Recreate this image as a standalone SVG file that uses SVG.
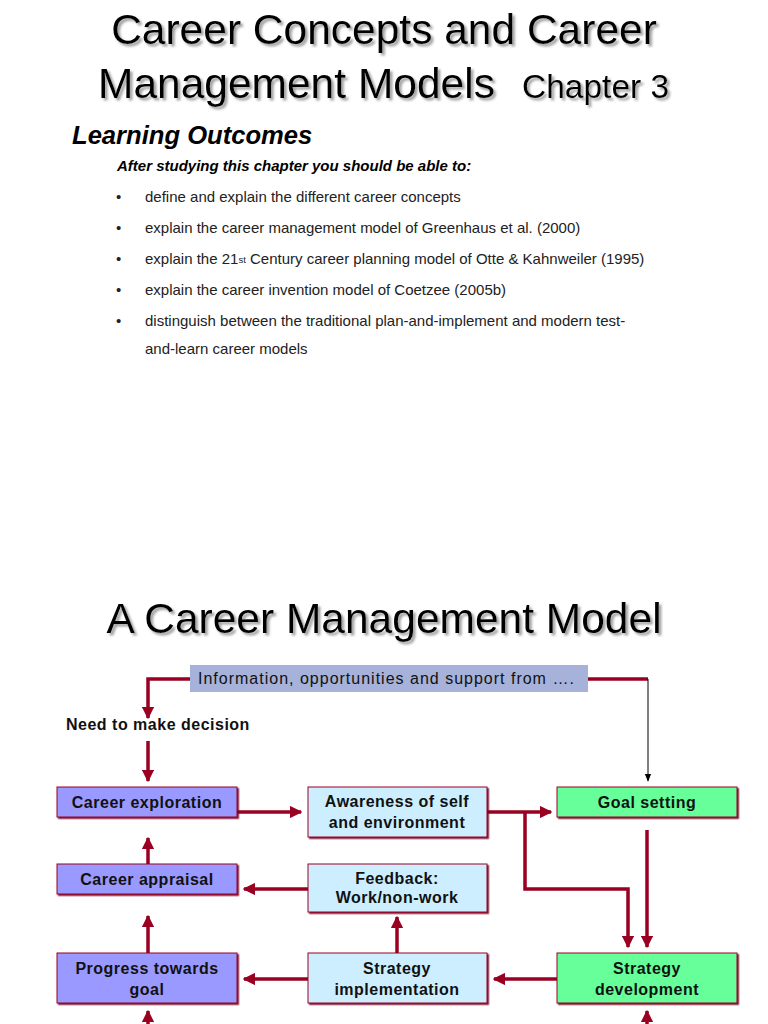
<svg xmlns="http://www.w3.org/2000/svg" width="768" height="1024" viewBox="0 0 768 1024">
<defs>
<filter id="tsh" x="-5%" y="-20%" width="110%" height="150%">
<feDropShadow dx="2.5" dy="2.5" stdDeviation="1" flood-color="#888" flood-opacity="0.8"/>
</filter>
<filter id="bsh" x="-5%" y="-10%" width="110%" height="130%">
<feDropShadow dx="1.5" dy="1.5" stdDeviation="0.3" flood-color="#7a0020" flood-opacity="0.9"/>
</filter>
<marker id="ah" viewBox="0 0 10 10" refX="9" refY="5" markerWidth="3.6" markerHeight="3.6" orient="auto" markerUnits="strokeWidth">
<path d="M0,0 L10,5 L0,10 Z" fill="#990022"/>
</marker>
<marker id="ahk" viewBox="0 0 10 10" refX="9" refY="5" markerWidth="8" markerHeight="8" orient="auto" markerUnits="strokeWidth">
<path d="M0,1 L10,5 L0,9 Z" fill="#000"/>
</marker>
</defs>
<style>
.title{font-family:"Liberation Sans",Arial,sans-serif;font-size:42.5px;fill:#000;filter:url(#tsh)}
.lo{font-family:"Liberation Sans",Arial,sans-serif;font-weight:bold;font-style:italic;fill:#000}
.bl{font-family:"Liberation Sans",Arial,sans-serif;font-size:15px;fill:#222}
.box{stroke:#990022;stroke-width:1;filter:url(#bsh)}
.purple{fill:#9999ff}
.blue{fill:#cceeff}
.green{fill:#66ff99}
.lbl{font-family:"Liberation Sans",Arial,sans-serif;font-weight:bold;font-size:16px;letter-spacing:0.5px;fill:#111;text-anchor:middle}
.red{stroke:#990022;stroke-width:3.5;fill:none}
</style>
<rect width="768" height="1024" fill="#fff"/>

<g id="title">
<text class="title" x="384" y="44" text-anchor="middle">Career Concepts and Career</text>
<text class="title" x="98" y="98">Management Models</text>
<text class="title" x="522" y="98" style="font-size:33.5px">Chapter 3</text>
</g>

<g id="outcomes">
<text class="lo" x="72" y="144" font-size="25.6">Learning Outcomes</text>
<text class="lo" x="117" y="171" font-size="15">After studying this chapter you should be able to:</text>
<g class="bl">
<text x="116" y="202">•</text><text x="145" y="202">define and explain the different career concepts</text>
<text x="116" y="233">•</text><text x="145" y="233">explain the career management model of Greenhaus et al. (2000)</text>
<text x="116" y="264">•</text><text x="145" y="264">explain the 21<tspan font-size="9.5" dy="-1">st</tspan><tspan dy="1"> Century career planning model of Otte &amp; Kahnweiler (1995)</tspan></text>
<text x="116" y="295">•</text><text x="145" y="295">explain the career invention model of Coetzee (2005b)</text>
<text x="116" y="326">•</text><text x="145" y="326">distinguish between the traditional plan-and-implement and modern test-</text>
<text x="145" y="354">and-learn career models</text>
</g>
</g>

<g id="title2">
<text class="title" x="384" y="633" text-anchor="middle">A Career Management Model</text>
</g>

<g id="connectors">
<polyline class="red" points="190,679 148,679 148,718" marker-end="url(#ah)"/>
<line x1="588" y1="679" x2="648" y2="679" stroke="#990022" stroke-width="3.5"/>
<line x1="648" y1="679" x2="648" y2="781" stroke="#000" stroke-width="1" marker-end="url(#ahk)"/>
<line class="red" x1="148" y1="741" x2="148" y2="781" marker-end="url(#ah)"/>
<line class="red" x1="237" y1="812" x2="301" y2="812" marker-end="url(#ah)"/>
<line class="red" x1="487" y1="812" x2="551" y2="812" marker-end="url(#ah)"/>
<polyline class="red" points="525,812 525,889 628,889 628,947" marker-end="url(#ah)"/>
<line class="red" x1="647" y1="830" x2="647" y2="947" marker-end="url(#ah)"/>
<line class="red" x1="557" y1="979" x2="494" y2="979" marker-end="url(#ah)"/>
<line class="red" x1="308" y1="979" x2="244" y2="979" marker-end="url(#ah)"/>
<line class="red" x1="397" y1="953" x2="397" y2="917" marker-end="url(#ah)"/>
<line class="red" x1="308" y1="889" x2="244" y2="889" marker-end="url(#ah)"/>
<line class="red" x1="148" y1="864" x2="148" y2="838" marker-end="url(#ah)"/>
<line class="red" x1="148" y1="953" x2="148" y2="916" marker-end="url(#ah)"/>
<line class="red" x1="148" y1="1030" x2="148" y2="1011" marker-end="url(#ah)"/>
<line class="red" x1="647" y1="1030" x2="647" y2="1011" marker-end="url(#ah)"/>
</g>

<g id="info">
<rect x="190" y="665" width="398" height="27" fill="#a6b2d9"/>
<text x="198" y="684" font-family="Liberation Sans,Arial,sans-serif" font-size="16" letter-spacing="1" fill="#111">Information, opportunities and support from ….</text>
</g>
<g id="need">
<text x="66" y="730" font-family="Liberation Sans,Arial,sans-serif" font-weight="bold" font-size="16" letter-spacing="0.5" fill="#111">Need to make decision</text>
</g>

<g id="career-exploration">
<rect class="box purple" x="57" y="787" width="180" height="30"/>
<text class="lbl" x="147" y="808">Career exploration</text>
</g>
<g id="awareness">
<rect class="box blue" x="308" y="787" width="179" height="50"/>
<text class="lbl" x="397" y="807">Awareness of self</text>
<text class="lbl" x="397" y="828">and environment</text>
</g>
<g id="goal-setting">
<rect class="box green" x="557" y="787" width="180" height="30"/>
<text class="lbl" x="647" y="808">Goal setting</text>
</g>
<g id="career-appraisal">
<rect class="box purple" x="57" y="864" width="180" height="30"/>
<text class="lbl" x="147" y="885">Career appraisal</text>
</g>
<g id="feedback">
<rect class="box blue" x="308" y="864" width="179" height="48"/>
<text class="lbl" x="397" y="884">Feedback:</text>
<text class="lbl" x="397" y="903">Work/non-work</text>
</g>
<g id="progress">
<rect class="box purple" x="57" y="953" width="180" height="50"/>
<text class="lbl" x="147" y="974">Progress towards</text>
<text class="lbl" x="147" y="995">goal</text>
</g>
<g id="strategy-implementation">
<rect class="box blue" x="308" y="953" width="179" height="50"/>
<text class="lbl" x="397" y="974">Strategy</text>
<text class="lbl" x="397" y="995">implementation</text>
</g>
<g id="strategy-development">
<rect class="box green" x="557" y="953" width="180" height="50"/>
<text class="lbl" x="647" y="974">Strategy</text>
<text class="lbl" x="647" y="995">development</text>
</g>
</svg>
